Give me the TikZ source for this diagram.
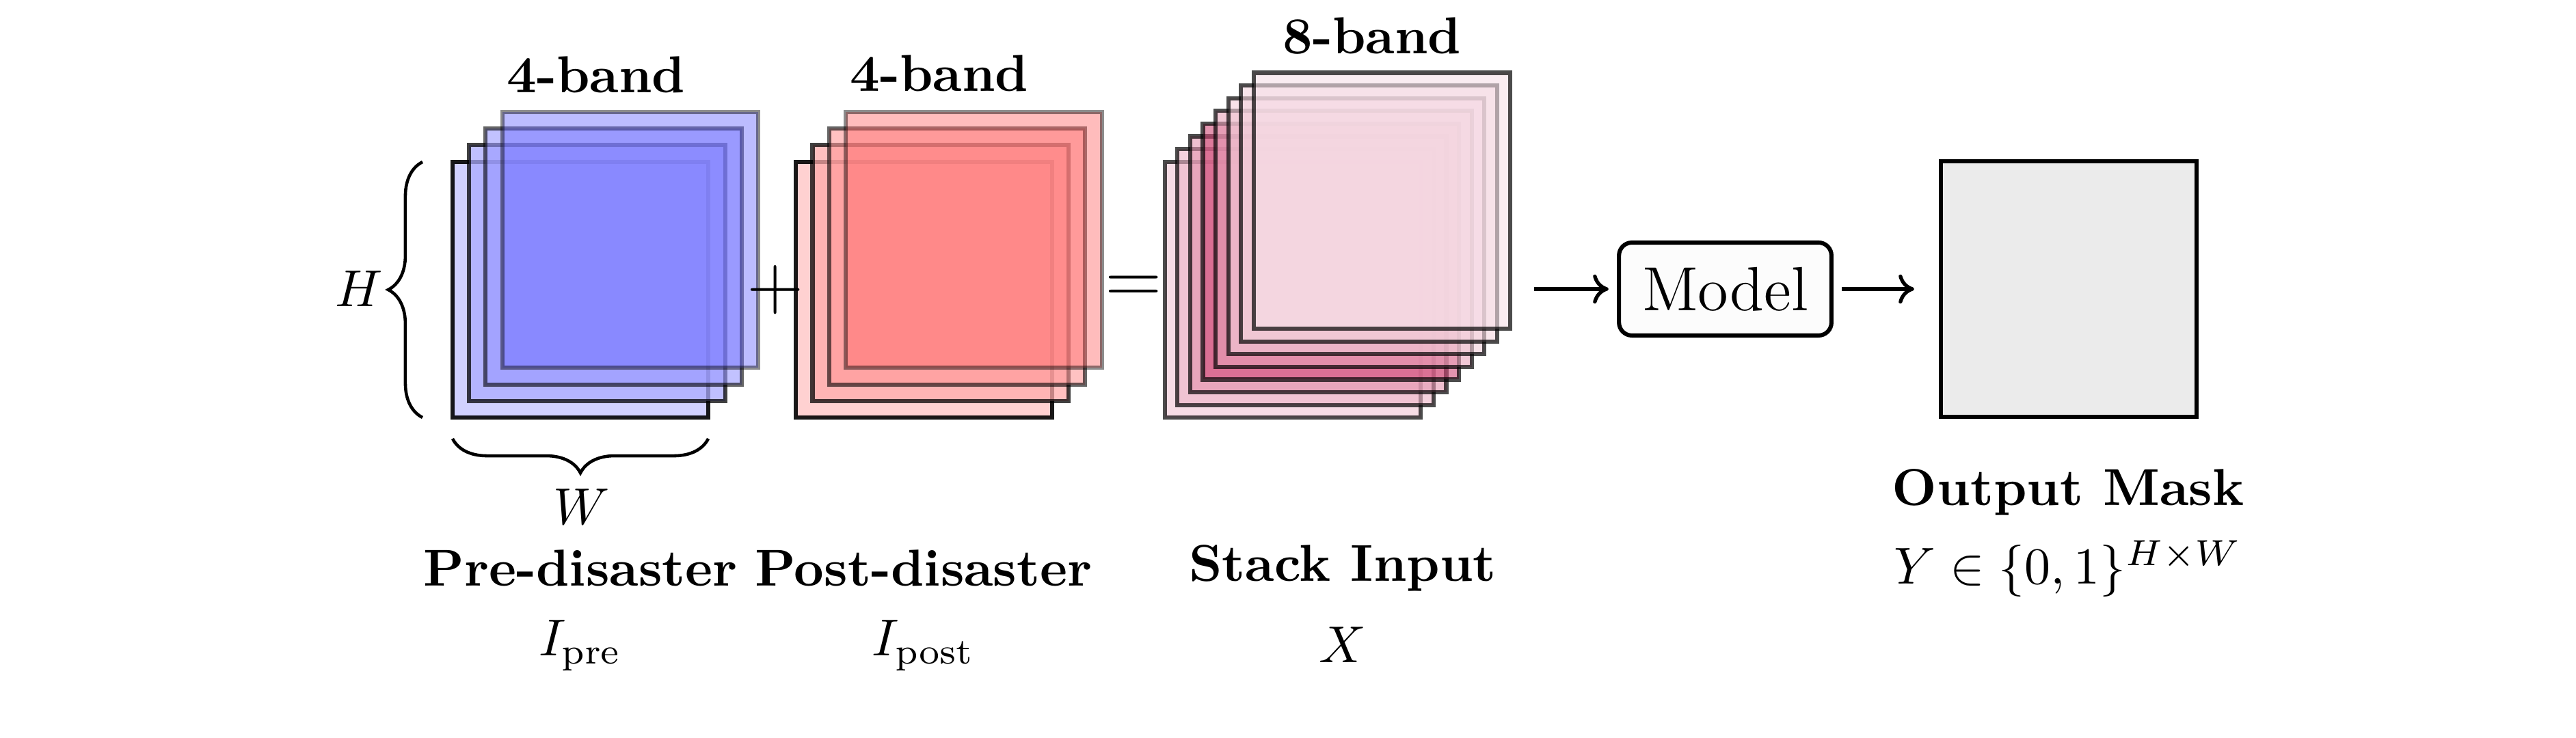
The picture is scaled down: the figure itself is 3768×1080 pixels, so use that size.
\documentclass[tikz,border=0pt]{standalone}
\usetikzlibrary{decorations.pathreplacing,arrows.meta}
\begin{document}
\begin{tikzpicture}[x=0.1316pt,y=-0.1316pt,
  sq/.style={draw=black, line width=0.8pt, minimum size=49.3pt, inner sep=0pt, anchor=center},
  pk/.style={sq, draw opacity=0.7, fill opacity=0.6},
  lbl/.style={anchor=base, inner sep=0pt, font=\bfseries},
  mth/.style={anchor=base, inner sep=0pt},
  brc/.style={decorate, decoration={brace, amplitude=6.6pt}, line width=0.6pt},
  arr/.style={line width=0.7pt, -{Computer Modern Rightarrow[length=3pt,width=5.6pt]}},
  op/.style={inner sep=0pt, anchor=center, font=\fontsize{13.5}{16}\selectfont}]
\useasboundingbox (0,0) rectangle (3768,1080);

% pre-disaster stack (blue)
\node[sq, fill=blue!20, opacity=0.9]  (b0) at (849,424) {};
\node[sq, fill=blue!33, opacity=0.75] (b1) at (873.3,399.7) {};
\node[sq, fill=blue!40, opacity=0.6]  (b2) at (897.6,375.4) {};
\node[sq, fill=blue!58, opacity=0.45] (b3) at (921.9,351.1) {};

% post-disaster stack (red)
\node[sq, fill=red!20, opacity=0.9]  (r0) at (1351.5,424) {};
\node[sq, fill=red!33, opacity=0.75] (r1) at (1375.8,399.7) {};
\node[sq, fill=red!40, opacity=0.6]  (r2) at (1400.1,375.4) {};
\node[sq, fill=red!58, opacity=0.45] (r3) at (1424.4,351.1) {};

% stacked input (8 bands)
\node[pk, fill=purple!23] (p0) at (1891,424) {};
\node[pk, fill=purple!30] (p1) at (1909.6,405.4) {};
\node[pk, fill=purple!42] (p2) at (1928.2,386.8) {};
\node[pk, fill=purple!70] (p3) at (1946.8,368.2) {};
\node[pk, fill=purple!36] (p4) at (1965.4,349.6) {};
\node[pk, fill=purple!19] (p5) at (1984,331) {};
\node[pk, fill=purple!17] (p6) at (2002.6,312.4) {};
\node[pk, fill=purple!12] (p7) at (2021.2,293.8) {};

% output mask
\node[sq, fill=black!8] (out) at (3026,423) {};

% model
\node[draw, line width=0.8pt, rounded corners=2.5pt, fill=black!1,
      minimum width=40.9pt, minimum height=17.9pt, inner sep=0pt, font=\large]
      (model) at (2523.5,423) {Model};

% operators
\node[op] (plus) at (1134,424) {$+$};
\node[op] (eq) at (1658.5,424) {$=$};

% arrows
\draw[arr, shorten <=4.3pt, shorten >=1.6pt] (model.west -| p7.east) -- (model.west);
\draw[arr, shorten <=1.6pt, shorten >=4.7pt] (model.east) -- (out.west);

% braces
\coordinate (hb1) at (618,611);
\coordinate (hb2) at (618,237);
\coordinate (wb1) at (1036,642);
\coordinate (wb2) at (662,642);
\draw[brc] (hb1) -- (hb2);
\draw[brc] (wb1) -- (wb2);
\node[inner sep=0pt, anchor=center] (hl) at (525,423) {$H$};
\node[mth] (wl) at (851,768) {$W$};

% band labels
\node[lbl] (t1) at (872,136) {4-band};
\node[lbl] (t2) at (1374,134) {4-band};
\node[lbl] (t3) at (2007,79) {8-band};

% bottom labels
\node[lbl] (l1) at (849,858) {Pre-disaster};
\node[lbl] (l2) at (1351,858) {Post-disaster};
\node[lbl] (l3) at (1964,851) {Stack Input};
\node[lbl] (l4) at (3025,740) {Output Mask};

\node[mth] (m1) at (849,960) {$I_{\mathrm{pre}}$};
\node[mth] (m2) at (1351,960) {$I_{\mathrm{post}}$};
\node[mth] (m3) at (1964,970) {$X$};
\node[mth] (m4) at (3025,855) {$Y\in\{0,1\}^{H\times W}$};
\end{tikzpicture}
\end{document}
